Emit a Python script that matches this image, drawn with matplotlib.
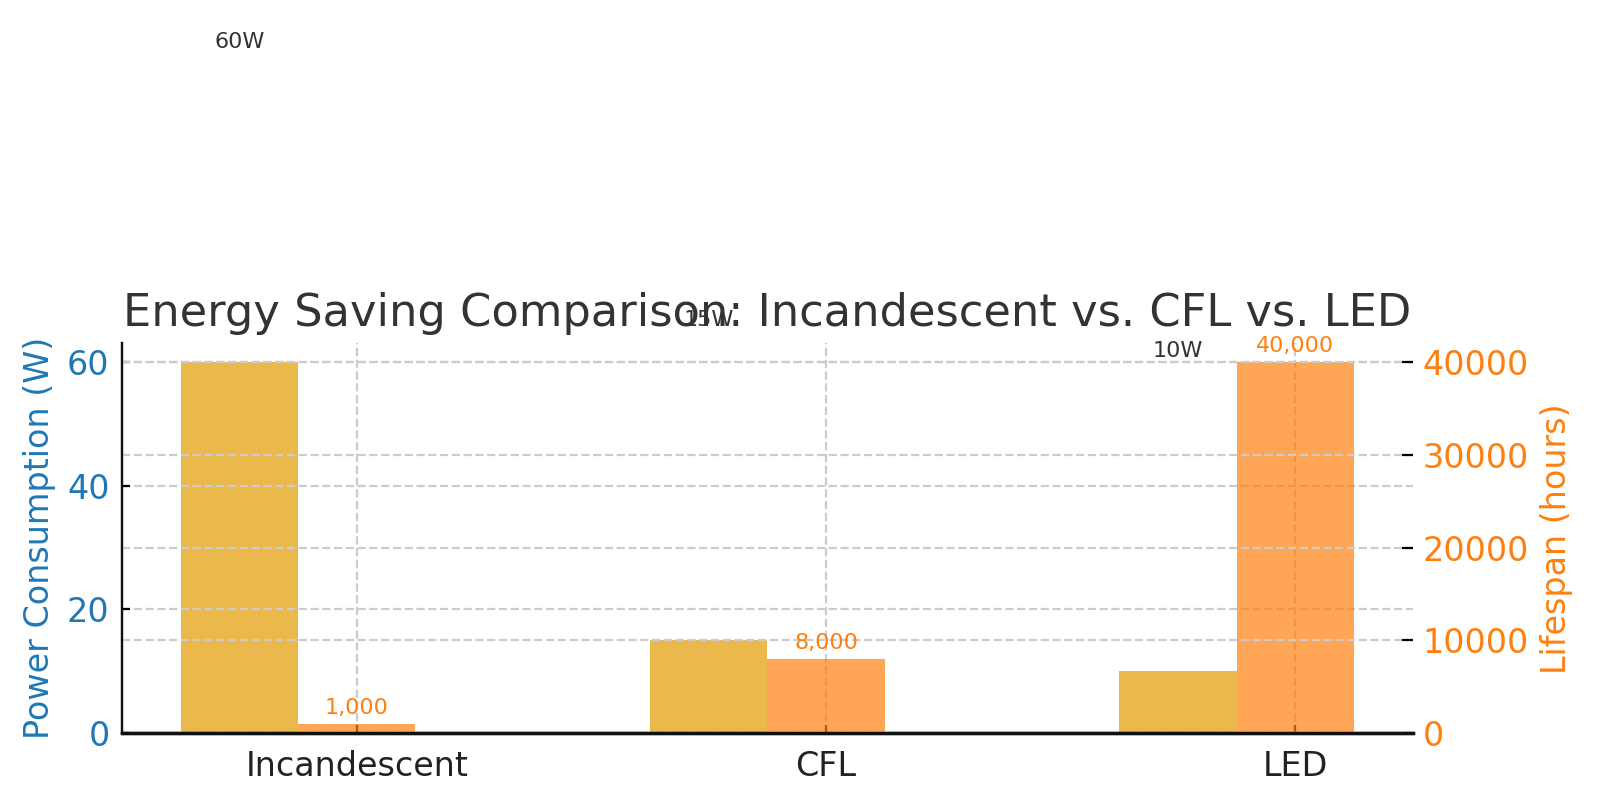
import numpy as np
import matplotlib
matplotlib.use("Agg")
import matplotlib.pyplot as plt

# Datos
bulbs = ["Incandescent", "CFL", "LED"]
power_w = [60, 15, 10]
lifespan_h = [1000, 8000, 40000]
power_labels = ["60W", "15W", "10W"]
lifespan_labels = ["1,000", "8,000", "40,000"]

gold = "#EBB94B"
orange = "#ff7f0e"
blue = "#1f77b4"
grid_kw = dict(linestyle="--", color="#cccccc", linewidth=0.8)

x = np.arange(len(bulbs))
width = 0.25

fig = plt.figure(figsize=(8, 4.01), dpi=200)
ax1 = fig.add_axes([0.0763, 0.086, 0.8067, 0.4857])
ax2 = ax1.twinx()

# Barras de potencia (eje izquierdo)
ax1.bar(x - width, power_w, width, color=gold)
for xi, v, lab in zip(x, power_w, power_labels):
    ax1.text(xi - width, v + 50.2, lab, ha="center", va="bottom",
             fontsize=8, color="#333333", clip_on=False)

# Barras de vida util (eje derecho)
ax2.bar(x, lifespan_h, width, color=orange, alpha=0.7)
for xi, v, lab in zip(x, lifespan_h, lifespan_labels):
    ax2.text(xi, v + 600, lab, ha="center", va="bottom",
             fontsize=8, color=orange)

ax1.set_xticks(x)
ax1.set_xticklabels(bulbs, fontsize=12, color="#222222")
ax1.set_ylabel("Power Consumption (W)", fontsize=12, color=blue)
ax2.set_ylabel("Lifespan (hours)", fontsize=12, color=orange)
ax1.tick_params(axis="y", labelcolor=blue, labelsize=12, direction="in",
                length=3, pad=4.5)
ax1.tick_params(axis="x", direction="in", length=3, pad=6)
ax2.tick_params(axis="y", labelcolor=orange, labelsize=12, direction="in",
                length=4)

ax1.grid(True, **grid_kw)
ax2.grid(True, **grid_kw)

for ax in (ax1, ax2):
    ax.spines["top"].set_visible(False)
    ax.spines["right"].set_visible(False)
    ax.spines["left"].set_color("#111111")
    ax.spines["bottom"].set_color("#111111")
    ax.spines["bottom"].set_linewidth(1.2)

ax1.set_title("Energy Saving Comparison: Incandescent vs. CFL vs. LED",
              fontsize=16.1, color="#333333", pad=6.2)

fig.savefig("out.png", dpi=200)
